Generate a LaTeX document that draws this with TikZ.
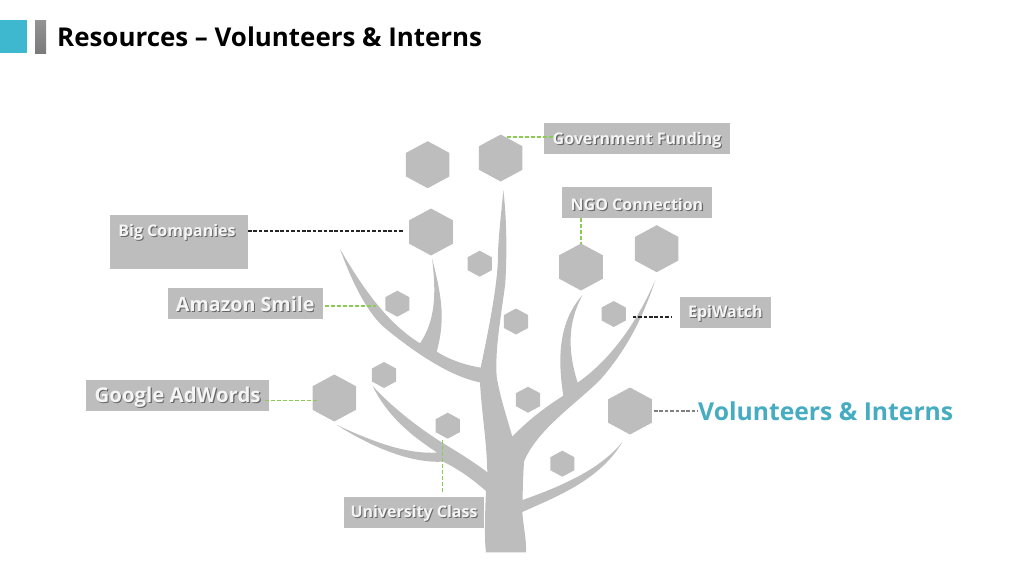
\documentclass[tikz,border=0pt]{standalone}
\usepackage{fontspec}
\setmainfont{Open Sans}
\usetikzlibrary{shapes.geometric}
\definecolor{treegray}{HTML}{BDBDBD}
\definecolor{tealc}{HTML}{3DB8CF}
\definecolor{voltxt}{HTML}{46ACC2}
\definecolor{greend}{HTML}{8CCB55}
\definecolor{shadowc}{HTML}{666666}
\newcommand{\shadowed}[1]{\rlap{\raisebox{-1.1pt}{\hspace{1.1pt}\textcolor{shadowc}{#1}}}\textcolor{white!96!black}{#1}}
\tikzset{
 hexbase/.style={regular polygon,regular polygon sides=6,shape border rotate=30,fill=treegray,inner sep=0pt,outer sep=0pt,transform shape,xscale=1.07},
 hexbig/.style={hexbase,minimum size=47pt},
 hexsmall/.style={hexbase,minimum size=26pt},
 labelbox/.style={rectangle,fill=treegray,inner sep=0pt,outer sep=0pt},
 boxtext/.style={font=\bfseries\fontsize{16}{18}\selectfont,inner sep=0pt,yshift=-2pt},
 gdash/.style={draw=greend,line width=1.35pt,dash pattern=on 4pt off 2pt},
 kdash/.style={draw=black!85,line width=1.3pt,dash pattern=on 3.6pt off 1.8pt},
 ydash/.style={draw=black!50,line width=1.3pt,dash pattern=on 3.6pt off 1.8pt},
}
\begin{document}
\begin{tikzpicture}[x=1pt,y=-1pt]
\useasboundingbox (0,0) rectangle (1024,576);
% header
\fill[tealc] (0,20) rectangle (27,53);
\shade[top color=black!42,bottom color=black!52] (35,20) rectangle (46,53);
\node[anchor=west,inner sep=0pt,font=\bfseries\fontsize{25.9}{30}\selectfont] (title) at (57,37) {Resources – Volunteers \& Interns};
% tree, traced in a 3x frame
\begin{scope}[shift={(300,280)},x=0.3333pt,y=-0.3333pt]
\fill[treegray] (558,817) .. controls (553,780) and (555,700) .. (558,633)
 .. controls (520,600) and (480,570) .. (430,545)
 .. controls (340,550) and (230,510) .. (110,435)
 .. controls (230,490) and (320,522) .. (412,518)
 .. controls (330,465) and (260,405) .. (218,318)
 .. controls (275,380) and (350,440) .. (430,490)
 .. controls (480,520) and (530,552) .. (562,577)
 .. controls (560,480) and (545,400) .. (540,307)
 .. controls (450,290) and (340,215) .. (250,140)
 .. controls (195,90) and (150,-10) .. (120,-93)
 .. controls (180,10) and (255,125) .. (360,190)
 .. controls (400,130) and (412,60) .. (396,-66)
 .. controls (420,30) and (440,110) .. (410,215)
 .. controls (450,240) and (495,255) .. (542,263)
 .. controls (570,130) and (595,0) .. (594,-80)
 .. controls (596,-140) and (605,-210) .. (610,-270)
 .. controls (622,-170) and (620,-60) .. (616,10)
 .. controls (600,130) and (585,210) .. (590,290)
 .. controls (600,350) and (620,410) .. (637,470)
 .. controls (680,425) and (730,385) .. (790,347)
 .. controls (775,250) and (770,130) .. (848,45)
 .. controls (800,130) and (805,220) .. (833,308)
 .. controls (930,240) and (1010,130) .. (1066,0)
 .. controls (1030,110) and (980,210) .. (900,300)
 .. controls (830,370) and (710,450) .. (672,545)
 .. controls (670,580) and (668,620) .. (668,660)
 .. controls (780,620) and (900,570) .. (968,485)
 .. controls (900,600) and (770,650) .. (667,696)
 .. controls (670,740) and (680,780) .. (678,817) -- cycle;
\end{scope}
% hexagons
\node[hexbig] (h1) at (427.7,164.7) {};
\node[hexbig] (h2) at (500.7,158) {};
\node[hexbig] (h3) at (431,232) {};
\node[hexsmall] (s1) at (479.7,263.7) {};
\node[hexbig] (h4) at (581,267) {};
\node[hexbig] (h5) at (656.7,248.7) {};
\node[hexsmall] (s2) at (613.7,314) {};
\node[hexsmall] (s3) at (516,321.5) {};
\node[hexsmall] (s4) at (397.3,303.7) {};
\node[hexsmall] (s5) at (384,375) {};
\node[hexbig] (h6) at (334.3,398) {};
\node[hexsmall] (s6) at (528,399.7) {};
\node[hexbig] (h7) at (630,411) {};
\node[hexsmall] (s7) at (447.7,425.7) {};
\node[hexsmall] (s8) at (562.3,463.7) {};
% label boxes
\node[labelbox,minimum width=138pt,minimum height=54pt] (big) at (179,242) {};
\node[labelbox,minimum width=185.4pt,minimum height=31pt] (gov) at (637,138.5) {};
\node[labelbox,minimum width=150pt,minimum height=31pt] (ngo) at (637,202.8) {};
\node[labelbox,minimum width=91.3pt,minimum height=31pt] (epi) at (725.3,312.2) {};
\node[labelbox,minimum width=155pt,minimum height=31pt] (ama) at (245.2,303.8) {};
\node[labelbox,minimum width=182.7pt,minimum height=31pt] (goo) at (177.6,395.7) {};
\node[labelbox,minimum width=140.6pt,minimum height=31pt] (uni) at (414,512.2) {};
% connectors
\coordinate (c1) at (507,137);
\coordinate (c1b) at (553.5,137);
\draw[gdash] (c1) -- (c1b);
\draw[gdash] (ngo.south -| h4.north) -- (h4.north);
\coordinate (c3) at (404,231);
\draw[kdash] (big.east |- c3) -- (c3);
\coordinate (c4a) at (325,306);
\coordinate (c4b) at (376,306);
\draw[gdash,line width=1.8pt] (c4a) -- (c4b);
\coordinate (c5a) at (265,400.3);
\coordinate (c5b) at (316.7,400.3);
\draw[gdash] (c5a) -- (c5b);
\coordinate (c6a) at (632.7,317);
\coordinate (c6b) at (671.3,317);
\draw[kdash,line width=1.8pt] (c6a) -- (c6b);
\coordinate (c7a) at (442.3,440);
\coordinate (c7b) at (442.3,491.7);
\draw[gdash] (c7a) -- (c7b);
\node[anchor=west,inner sep=0pt,text=voltxt,font=\bfseries\fontsize{24.7}{30}\selectfont] (vol) at (698,411) {Volunteers \& Interns};
\coordinate (c8) at (654,411);
\draw[ydash] (c8) -- (vol.west);
% box texts
\node[boxtext] (bigt) at (177,230.5) {\shadowed{Big Companies}};
\node[boxtext] (govt) at (gov.center) {\shadowed{Government Funding}};
\node[boxtext] (ngot) at (ngo.center) {\shadowed{NGO Connection}};
\node[boxtext] (epit) at (epi.center) {\shadowed{EpiWatch}};
\node[boxtext,font=\bfseries\fontsize{19.7}{24}\selectfont,yshift=1pt] (amat) at (ama.center) {\shadowed{Amazon Smile}};
\node[boxtext,font=\bfseries\fontsize{20.4}{24}\selectfont] (goot) at (goo.center) {\shadowed{Google AdWords}};
\node[boxtext] (unit) at (uni.center) {\shadowed{University Class}};
\end{tikzpicture}
\end{document}
